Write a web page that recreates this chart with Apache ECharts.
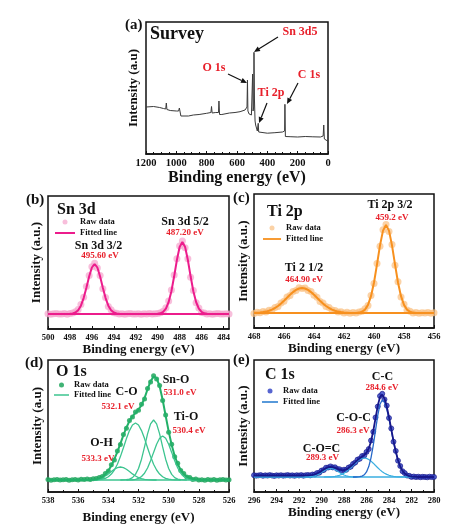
<!DOCTYPE html>
<html>
<head>
<meta charset="utf-8">
<script src="https://cdn.jsdelivr.net/npm/echarts@6/dist/echarts.min.js"></script>
<style>
  html, body { margin: 0; padding: 0; background: #fff; }
  #chart { width: 474px; height: 526px; }
</style>
</head>
<body>
<div id="chart"></div>
<script>
var FONT = '"Liberation Serif", "DejaVu Serif", serif';
var INK = '#111';
var RED = '#e8202b';

// (a) survey spectrum, [binding energy, intensity]
var surveyPoints = [
  [1200, 47], [1150, 47.5], [1110, 46.5], [1085, 45.5], [1070, 45], [1066, 51], [1062, 44.5],
  [1040, 43.5], [1000, 43], [985, 43], [980, 46], [976, 44], [970, 38], [958, 37.3], [920, 38],
  [888, 39], [850, 39.5], [800, 40.7], [772, 41.5], [768, 47.5], [764, 41], [740, 41.5],
  [722, 41.5], [719, 53], [715, 39.5], [700, 39.5], [650, 41], [613, 41.5], [580, 42.3],
  [547, 44], [537, 45.5], [534, 47], [531, 74], [528, 43], [520, 40], [505, 39], [500, 41],
  [497, 80], [494, 43], [490, 47], [488, 101.7], [485, 55], [481, 33], [477, 29], [472, 27],
  [466, 23], [462, 23.5], [460, 30.7], [457, 22], [448, 20.7], [400, 20.8], [350, 21.3],
  [300, 22], [290, 22.5], [286, 23], [284, 49.7], [281, 17.5], [250, 17.3], [200, 17],
  [150, 17.5], [100, 17.2], [50, 17], [32, 18], [28, 29], [24, 15], [12, 13.5], [0, 12.7]
];

// (b) Sn 3d
var snEnergy = [
  500, 499.75, 499.5, 499.25, 499, 498.75, 498.5, 498.25,
  498, 497.75, 497.5, 497.25, 497, 496.75, 496.5, 496.25,
  496, 495.75, 495.5, 495.25, 495, 494.75, 494.5, 494.25,
  494, 493.75, 493.5, 493.25, 493, 492.75, 492.5, 492.25,
  492, 491.75, 491.5, 491.25, 491, 490.75, 490.5, 490.25,
  490, 489.75, 489.5, 489.25, 489, 488.75, 488.5, 488.25,
  488, 487.75, 487.5, 487.25, 487, 486.75, 486.5, 486.25,
  486, 485.75, 485.5, 485.25, 485, 484.75, 484.5, 484.25,
  484, 483.75, 483.5
];
var snRaw = [
  15.3, 14.8, 15.2, 15.5, 14.9, 15.1, 15.4, 14.8,
  15.6, 15.9, 17.2, 19.6, 24.4, 31.8, 42.5, 53.6,
  62.3, 65.8, 60.9, 53.4, 40.3, 31.6, 22.6, 19.3,
  16.2, 15.8, 15.0, 15.3, 14.8, 15.2, 15.4, 14.9,
  15.1, 15.3, 14.8, 15.2, 15.0, 15.4, 14.9, 15.2,
  15.5, 16.2, 17.8, 21.3, 28.1, 38.9, 53.9, 70.2,
  83.1, 88.0, 81.2, 70.3, 51.8, 38.6, 26.2, 21.1,
  16.6, 16.1, 15.0, 15.3, 14.8, 15.2, 15.4, 14.9,
  15.1, 15.3, 14.9
];
var snFit = [
  15, 15, 15, 15, 15, 15, 15, 15,
  15.2, 15.5, 16.5, 18.8, 23.3, 30.9, 41.2, 52.5,
  61.5, 65, 61.5, 52.5, 41.2, 30.9, 23.3, 18.8,
  16.5, 15.5, 15.2, 15, 15, 15, 15, 15,
  15, 15, 15, 15, 15, 15, 15, 15,
  15.2, 15.7, 17.1, 20.4, 27, 37.8, 52.7, 69,
  82, 87, 82, 69, 52.7, 37.8, 27, 20.4,
  17.1, 15.7, 15.2, 15, 15, 15, 15, 15,
  15, 15, 15
];
var snBaseline = [[500, 15], [483.5, 15]];
var snTicks = [484, 486, 488, 490, 492, 494, 496, 498, 500];

// (c) Ti 2p
var tiEnergy = [
  468, 467.8, 467.6, 467.4, 467.2, 467, 466.8, 466.6, 466.4, 466.2,
  466, 465.8, 465.6, 465.4, 465.2, 465, 464.8, 464.6, 464.4, 464.2,
  464, 463.8, 463.6, 463.4, 463.2, 463, 462.8, 462.6, 462.4, 462.2,
  462, 461.8, 461.6, 461.4, 461.2, 461, 460.8, 460.6, 460.4, 460.2,
  460, 459.8, 459.6, 459.4, 459.2, 459, 458.8, 458.6, 458.4, 458.2,
  458, 457.8, 457.6, 457.4, 457.2, 457, 456.8, 456.6, 456.4, 456.2,
  456
];
var tiRaw = [
  14.6, 15.8, 15.2, 16.4, 16.0, 17.8, 18.1, 20.6, 21.5, 25.0,
  26.8, 30.9, 32.6, 36.4, 37.5, 40.2, 39.4, 40.1, 37.6, 36.5,
  32.7, 30.8, 26.6, 24.9, 21.4, 20.5, 17.9, 17.6, 16.0, 16.3,
  15.1, 15.7, 14.8, 15.4, 15.0, 15.9, 16.8, 19.2, 22.5, 32.6,
  44.6, 64.5, 81.8, 98.2, 103.6, 96.5, 83.5, 62.8, 46.3, 31.0,
  23.8, 17.9, 16.8, 15.1, 15.6, 14.7, 15.3, 14.9, 15.4, 14.8,
  15.2
];
var tiFit = [
  15.2, 15.3, 15.5, 15.9, 16.4, 17.2, 18.4, 20.0, 22.0, 24.4,
  27.2, 30.2, 33.2, 35.9, 38.1, 39.5, 40, 39.5, 38.1, 35.9,
  33.2, 30.2, 27.2, 24.4, 22.0, 20.0, 18.4, 17.2, 16.4, 15.9,
  15.5, 15.3, 15.1, 15, 15.1, 15.4, 16.3, 18.4, 23.1, 31.8,
  45.5, 63.6, 82.6, 97.4, 103, 97.4, 82.6, 63.6, 45.5, 31.8,
  23.1, 18.4, 16.3, 15.4, 15.1, 15, 15, 15, 15, 15,
  15
];
var tiBaseline = [[468, 15], [456, 15]];

// (d) O 1s
var oEnergy = [
  538, 537.8, 537.6, 537.4, 537.2, 537, 536.8, 536.6, 536.4, 536.2,
  536, 535.8, 535.6, 535.4, 535.2, 535, 534.8, 534.6, 534.4, 534.2,
  534, 533.8, 533.6, 533.4, 533.2, 533, 532.8, 532.6, 532.4, 532.2,
  532, 531.8, 531.6, 531.4, 531.2, 531, 530.8, 530.6, 530.4, 530.2,
  530, 529.8, 529.6, 529.4, 529.2, 529, 528.8, 528.6, 528.4, 528.2,
  528, 527.8, 527.6, 527.4, 527.2, 527, 526.8, 526.6, 526.4, 526.2,
  526
];
var oRaw = [
  12.4, 11.8, 12.3, 12.6, 11.9, 12.2, 12.5, 11.7, 12.3, 12.6,
  12.1, 12.8, 12.4, 13.0, 12.6, 13.2, 13.5, 14.5, 15.6, 18.4,
  21.0, 27.2, 32.0, 41.0, 47.6, 57.6, 63.8, 71.6, 75.0, 80.1,
  81.8, 87.8, 93.1, 103.5, 110.1, 116.2, 113.0, 106.6, 91.5, 77.0,
  59.8, 47.8, 35.2, 28.7, 21.4, 18.5, 15.0, 14.4, 12.6, 12.9,
  11.9, 12.3, 11.8, 12.4, 12.0, 12.5, 11.8, 12.2, 12.6, 11.9,
  12.3
];
var oFit = [
  12, 12, 12, 12, 12, 12, 12, 12, 12, 12,
  12, 12, 12, 12, 12.1, 12.3, 12.8, 13.6, 15.1, 17.6,
  21.3, 26.4, 32.8, 40.2, 48.4, 56.8, 64.5, 70.9, 75.7, 79.2,
  82.5, 86.9, 93.9, 102.7, 110.8, 115.4, 113.8, 105.8, 92.3, 76.2,
  60.6, 47, 36, 28, 22, 18, 15.5, 14, 13, 12.5,
  12.2, 12, 12, 12, 12, 12, 12, 12, 12, 12,
  12
];
var ohPeak = [
  [535.8, 12], [535.6, 12], [535.4, 12], [535.2, 12.1], [535, 12.3], [534.8, 12.6], [534.6, 13.3],
  [534.4, 14.4], [534.2, 16.0], [534, 18.1], [533.8, 20.5], [533.6, 22.8], [533.4, 24.4], [533.2, 25],
  [533, 24.4], [532.8, 22.8], [532.6, 20.5], [532.4, 18.1], [532.2, 16.0], [532, 14.4], [531.8, 13.3],
  [531.6, 12.6], [531.4, 12.3], [531.2, 12.1], [531, 12], [530.8, 12]
];
var coPeak = [
  [535.2, 12], [535, 12.05], [534.8, 12.1], [534.6, 12.3], [534.4, 12.8], [534.2, 13.6], [534, 15.2],
  [533.8, 17.9], [533.6, 22.0], [533.4, 27.8], [533.2, 35.4], [533, 44.3], [532.8, 53.4], [532.6, 61.4],
  [532.4, 67.0], [532.2, 69], [532, 67.0], [531.8, 61.4], [531.6, 53.4], [531.4, 44.3], [531.2, 35.4],
  [531, 27.8], [530.8, 22.0], [530.6, 17.9], [530.4, 15.2], [530.2, 13.6], [530, 12.8], [529.8, 12.3],
  [529.6, 12.1], [529.4, 12.05], [529.2, 12]
];
var snoPeak = [
  [533.2, 12], [533, 12.1], [532.8, 12.3], [532.6, 12.9], [532.4, 14.4], [532.2, 17.6], [532, 23.5],
  [531.8, 32.8], [531.6, 45.1], [531.4, 58.1], [531.2, 68.1], [531, 72], [530.8, 68.1], [530.6, 58.1],
  [530.4, 45.1], [530.2, 32.8], [530, 23.5], [529.8, 17.6], [529.6, 14.4], [529.4, 12.9], [529.2, 12.3],
  [529, 12.1], [528.8, 12]
];
var tioPeak = [
  [532.8, 12], [532.6, 12.1], [532.4, 12.2], [532.2, 12.7], [532, 13.6], [531.8, 15.5], [531.6, 18.8],
  [531.4, 24.0], [531.2, 31.2], [531, 39.6], [530.8, 47.7], [530.6, 53.8], [530.4, 56], [530.2, 53.8],
  [530, 47.7], [529.8, 39.6], [529.6, 31.2], [529.4, 24.0], [529.2, 18.8], [529, 15.5], [528.8, 13.6],
  [528.6, 12.7], [528.4, 12.2], [528.2, 12.1], [528, 12]
];
var oBaseline = [[538, 12], [526, 12]];

// (e) C 1s
var cEnergy = [
  296, 295.8, 295.6, 295.4, 295.2, 295, 294.8, 294.6, 294.4, 294.2,
  294, 293.8, 293.6, 293.4, 293.2, 293, 292.8, 292.6, 292.4, 292.2,
  292, 291.8, 291.6, 291.4, 291.2, 291, 290.8, 290.6, 290.4, 290.2,
  290, 289.8, 289.6, 289.4, 289.2, 289, 288.8, 288.6, 288.4, 288.2,
  288, 287.8, 287.6, 287.4, 287.2, 287, 286.8, 286.6, 286.4, 286.2,
  286, 285.8, 285.6, 285.4, 285.2, 285, 284.8, 284.6, 284.4, 284.2,
  284, 283.8, 283.6, 283.4, 283.2, 283, 282.8, 282.6, 282.4, 282.2,
  282, 281.8, 281.6, 281.4, 281.2, 281, 280.8, 280.6, 280.4, 280.2,
  280
];
var cRaw = [
  16.8, 16.3, 16.6, 16.9, 16.2, 16.7, 16.4, 16.9, 16.5, 16.1,
  16.7, 16.4, 16.8, 16.3, 16.6, 16.9, 16.4, 16.7, 16.2, 16.8,
  16.5, 16.9, 16.3, 16.8, 17.0, 16.6, 17.5, 17.4, 18.9, 19.3,
  21.4, 22.0, 24.3, 24.5, 25.6, 24.6, 24.7, 23.0, 22.8, 21.5,
  22.3, 22.2, 24.4, 25.3, 28.1, 29.5, 32.4, 33.2, 35.9, 36.5,
  40.1, 43.0, 51.5, 60.2, 74.5, 85.4, 96.0, 98.2, 92.6, 86.4,
  74.0, 63.6, 50.3, 41.1, 31.3, 26.0, 20.8, 18.9, 16.5, 16.2,
  15.1, 15.5, 14.9, 15.3, 14.8, 15.2, 15.0, 14.7, 15.3, 14.9,
  15.1
];
var cFit = [
  16.5, 16.5, 16.5, 16.5, 16.5, 16.5, 16.5, 16.5, 16.5, 16.5,
  16.5, 16.5, 16.5, 16.5, 16.5, 16.5, 16.5, 16.5, 16.5, 16.5,
  16.5, 16.5, 16.5, 16.6, 16.6, 16.8, 17.1, 17.7, 18.5, 19.6,
  20.9, 22.4, 23.8, 24.8, 25.1, 24.9, 24.3, 23.4, 22.4, 21.8,
  21.9, 22.6, 23.9, 25.7, 27.6, 29.9, 31.9, 33.7, 35.3, 36.9,
  39.4, 43.5, 50.6, 61.0, 73.6, 86.2, 95.1, 97.4, 93.4, 85.5,
  74.8, 62.8, 51.0, 40.4, 31.9, 25.5, 21.2, 18.4, 16.8, 15.9,
  15.4, 15.2, 15.1, 15, 15, 15, 15, 15, 15, 15,
  15
];
var ccPeak = [
  [287.2, 15], [287, 15.0], [286.8, 15.1], [286.6, 15.3], [286.4, 15.9], [286.2, 17.2], [286, 20.1],
  [285.8, 25.4], [285.6, 34.2], [285.4, 46.7], [285.2, 61.7], [285, 76.7], [284.8, 87.8], [284.6, 92],
  [284.4, 89.6], [284.2, 82.9], [284, 73.1], [283.8, 61.7], [283.6, 50.3], [283.4, 40.0], [283.2, 31.7],
  [283, 25.4], [282.8, 21.1], [282.6, 18.4], [282.4, 16.8], [282.2, 15.9], [282, 15.4], [281.8, 15.2],
  [281.6, 15.1], [281.4, 15]
];
var cocPeak = [
  [289.8, 15], [289.6, 15.1], [289.4, 15.1], [289.2, 15.2], [289, 15.4], [288.8, 15.7], [288.6, 16.1],
  [288.4, 16.7], [288.2, 17.6], [288, 18.8], [287.8, 20.3], [287.6, 22.1], [287.4, 24.3], [287.2, 26.5],
  [287, 28.8], [286.8, 30.9], [286.6, 32.5], [286.4, 33.6], [286.2, 34], [286, 33.6], [285.8, 32.5],
  [285.6, 30.9], [285.4, 28.8], [285.2, 26.5], [285, 24.3], [284.8, 22.1], [284.6, 20.3], [284.4, 18.8],
  [284.2, 17.6], [284, 16.7], [283.8, 16.1], [283.6, 15.7], [283.4, 15.4], [283.2, 15.2], [283, 15.1],
  [282.8, 15.1], [282.6, 15]
];
var coecPeak = [
  [291.6, 15], [291.4, 15.1], [291.2, 15.1], [291, 15.3], [290.8, 15.6], [290.6, 16.2], [290.4, 17.0],
  [290.2, 18.1], [290, 19.4], [289.8, 20.9], [289.6, 22.2], [289.4, 23.2], [289.2, 23.5], [289, 23.2],
  [288.8, 22.2], [288.6, 20.9], [288.4, 19.4], [288.2, 18.1], [288, 17.0], [287.8, 16.2], [287.6, 15.6],
  [287.4, 15.3], [287.2, 15.1], [287, 15.1], [286.8, 15]
];
var cBaseline = [[296, 15], [280, 15]];

function pairs(xs, ys) {
  return xs.map(function (x, i) { return [x, ys[i]]; });
}

var chart = echarts.init(document.getElementById('chart'));

var gridBox = { show: true, borderColor: INK, borderWidth: 1.5, outerBoundsMode: 'none' };
var grids = [
  Object.assign({ left: 146, top: 22, width: 182, height: 132 }, gridBox),
  Object.assign({ left: 48, top: 196, width: 181, height: 133 }, gridBox),
  Object.assign({ left: 254, top: 194, width: 180, height: 134 }, gridBox),
  Object.assign({ left: 48, top: 360, width: 181, height: 132 }, gridBox),
  Object.assign({ left: 254, top: 360, width: 180, height: 132 }, gridBox)
];

function energyAxis(gi, min, max, interval, minorSplit, gap, nameSize, labelSize) {
  return {
    gridIndex: gi, type: 'value', min: min, max: max, interval: interval, inverse: true,
    name: 'Binding energy (eV)', nameLocation: 'middle', nameGap: gap,
    nameTextStyle: { fontFamily: FONT, fontWeight: 'bold', fontSize: nameSize, color: INK },
    axisLine: { onZero: false, lineStyle: { color: INK, width: 1.5 } },
    axisTick: { inside: true, length: 3, lineStyle: { color: INK, width: 1 } },
    minorTick: { show: true, splitNumber: minorSplit, length: 2, lineStyle: { color: INK, width: 1 } },
    axisLabel: { margin: 4, fontFamily: FONT, fontWeight: 'bold', fontSize: labelSize, color: INK,
                 formatter: function (v) { return String(v); } },
    splitLine: { show: false }, minorSplitLine: { show: false }
  };
}

function intensityAxis(gi, max, name, gap) {
  return {
    gridIndex: gi, type: 'value', min: 0, max: max,
    name: name, nameLocation: 'middle', nameGap: gap,
    nameTextStyle: { fontFamily: FONT, fontWeight: 'bold', fontSize: 13, color: INK },
    axisLine: { show: false }, axisTick: { show: false }, axisLabel: { show: false },
    splitLine: { show: false }
  };
}

var snAxis = energyAxis(1, 483.5, 500, null, 2, 13, 13, 8.5);
delete snAxis.interval;
snAxis.axisTick.customValues = snTicks;
snAxis.axisLabel.customValues = snTicks;
snAxis.minorTick = { show: false };

var xAxes = [
  energyAxis(0, 0, 1200, 200, 4, 16, 16, 10.5),
  snAxis,
  energyAxis(2, 456, 468, 2, 2, 13, 13, 8.5),
  energyAxis(3, 526, 538, 2, 2, 19, 13, 8.5),
  energyAxis(4, 280, 296, 2, 2, 12, 13, 8.5)
];
var yAxes = [
  intensityAxis(0, 132, 'Intensity (a.u)', 6),
  intensityAxis(1, 133, 'Intensity (a.u.)', 5),
  intensityAxis(2, 134, 'Intensity (a.u.)', 4),
  intensityAxis(3, 132, 'Intensity (a.u)', 4),
  intensityAxis(4, 132, 'Intensity (a.u.)', 4)
];

function lineSeries(name, gi, data, color, width, z) {
  return {
    name: name, type: 'line', xAxisIndex: gi, yAxisIndex: gi, data: data,
    symbol: 'none', showSymbol: false, smooth: false, z: z || 3,
    lineStyle: { color: color, width: width }, itemStyle: { color: color },
    emphasis: { disabled: true }, animation: false
  };
}
function rawSeries(name, gi, data, color, size, opacity, border) {
  return {
    name: name, type: 'scatter', xAxisIndex: gi, yAxisIndex: gi, data: data,
    symbol: 'circle', symbolSize: size, z: 2,
    itemStyle: Object.assign({ color: color, opacity: opacity }, border || {}),
    emphasis: { disabled: true }, animation: false
  };
}

var SN = '#ec1c8c', TI = '#f7901e', OG = '#22b068', OC = '#3cc48f', CN = '#17178a', CB = '#2769c9', CL = '#3aaee0';

var series = [
  lineSeries('survey', 0, surveyPoints, '#3a3a3a', 1, 3),

  rawSeries('snRaw', 1, pairs(snEnergy, snRaw), '#f5a3cc', 7, 0.7),
  lineSeries('snBase', 1, snBaseline, SN, 2),
  lineSeries('snFit', 1, pairs(snEnergy, snFit), SN, 2),

  rawSeries('tiRaw', 2, pairs(tiEnergy, tiRaw), '#f9bf80', 7, 0.7),
  lineSeries('tiBase', 2, tiBaseline, TI, 2),
  lineSeries('tiFit', 2, pairs(tiEnergy, tiFit), TI, 2),

  rawSeries('oRaw', 3, pairs(oEnergy, oRaw), '#1fa65d', 5, 0.85),
  lineSeries('oBase', 3, oBaseline, OC, 1.3),
  lineSeries('oComp', 3, ohPeak, OC, 1.3),
  lineSeries('oComp', 3, coPeak, OC, 1.3),
  lineSeries('oComp', 3, snoPeak, OC, 1.3),
  lineSeries('oComp', 3, tioPeak, OC, 1.3),
  lineSeries('oEnv', 3, pairs(oEnergy, oFit), OG, 2, 4),

  rawSeries('cRaw', 4, pairs(cEnergy, cRaw), '#3a4ac8', 5, 0.85, { borderColor: CN, borderWidth: 0.8 }),
  lineSeries('cBase', 4, cBaseline, CL, 1.3),
  lineSeries('cComp', 4, coecPeak, CL, 1.2),
  lineSeries('cComp', 4, cocPeak, CL, 1.2),
  lineSeries('cCC', 4, ccPeak, CB, 1.3),
  lineSeries('cEnv', 4, pairs(cEnergy, cFit), CN, 1.8, 4)
];

var LINE_ICON = 'path://M0 0 H20 V2 H0 Z';
var legendText = { fontFamily: FONT, fontWeight: 'bold', fontSize: 8.5, color: INK, lineHeight: 10 };
function legendFor(rawName, rawColor, fitName, fitColor, left, top, w, gap) {
  return {
    data: [{ name: rawName, icon: 'circle', itemStyle: { color: rawColor, borderWidth: 0 } },
           { name: fitName, icon: LINE_ICON, itemStyle: { color: fitColor } }],
    orient: 'vertical', left: left, top: top, padding: 0, itemGap: gap,
    itemWidth: w, itemHeight: 5, selectedMode: false, textStyle: legendText,
    formatter: function (n) { return n === rawName ? 'Raw data' : 'Fitted line'; }
  };
}
var legends = [
  legendFor('snRaw', '#f5a3cc', 'snFit', SN, 55, 217, 20, 1),
  legendFor('tiRaw', '#f9bf80', 'tiFit', TI, 263, 223, 18, 1),
  legendFor('oRaw', '#1fa65d', 'oComp', OC, 54, 380, 15, 0),
  legendFor('cRaw', '#3a4ac8', 'cComp', '#2c7fd1', 262, 386, 16, 1)
];

function txt(s, x, y, size, color, align) {
  return {
    type: 'text', x: x, y: y, z: 100,
    style: { text: s, font: 'bold ' + size + 'px ' + FONT, fill: color || INK,
             align: align || 'center', verticalAlign: 'middle' }
  };
}
function arrow(x1, y1, x2, y2) {
  var a = Math.atan2(y2 - y1, x2 - x1), L = 6, W = 2.6;
  var bx = x2 - L * Math.cos(a), by = y2 - L * Math.sin(a);
  var px = -Math.sin(a) * W, py = Math.cos(a) * W;
  return [
    { type: 'line', z: 100, shape: { x1: x1, y1: y1, x2: bx, y2: by }, style: { stroke: INK, lineWidth: 1.2 } },
    { type: 'polygon', z: 100, shape: { points: [[x2, y2], [bx + px, by + py], [bx - px, by - py]] }, style: { fill: INK } }
  ];
}

var graphics = [
  // (a)
  txt('(a)', 125, 25, 15, INK, 'left'),
  txt('Survey', 150, 34, 18, INK, 'left'),
  txt('Sn 3d5', 300, 32, 12, RED),
  txt('O 1s', 214, 68, 12, RED),
  txt('Ti 2p', 271, 93, 12, RED),
  txt('C 1s', 309, 75, 12, RED),
  // (b)
  txt('(b)', 26, 200, 15, INK, 'left'),
  txt('Sn 3d', 57, 210, 16, INK, 'left'),
  txt('Sn 3d 3/2', 98.5, 246, 12),
  txt('495.60 eV', 100, 256, 9, RED),
  txt('Sn 3d 5/2', 185, 222, 12),
  txt('487.20 eV', 185, 233, 9, RED),
  // (c)
  txt('(c)', 233, 198, 15, INK, 'left'),
  txt('Ti 2p', 267, 212, 16, INK, 'left'),
  txt('Ti 2p 3/2', 390, 205, 12),
  txt('459.2 eV', 392, 218, 9, RED),
  txt('Ti 2 1/2', 304, 268, 12),
  txt('464.90 eV', 304, 280, 9, RED),
  // (d)
  txt('(d)', 25, 363, 15, INK, 'left'),
  txt('O 1s', 56, 372, 16, INK, 'left'),
  txt('C-O', 126.5, 392, 12),
  txt('532.1 eV', 118, 407, 9, RED),
  txt('Sn-O', 176, 380, 12),
  txt('531.0 eV', 180, 393, 9, RED),
  txt('Ti-O', 186, 417, 12),
  txt('530.4 eV', 189, 431, 9, RED),
  txt('O-H', 101.5, 443, 12),
  txt('533.3 eV', 98, 459, 9, RED),
  // (e)
  txt('(e)', 233, 360, 15, INK, 'left'),
  txt('C 1s', 265, 375, 16, INK, 'left'),
  txt('C-C', 382.5, 377, 12),
  txt('284.6 eV', 382, 388, 9, RED),
  txt('C-O-C', 353.5, 418, 12),
  txt('286.3 eV', 353, 431, 9, RED),
  txt('C-O=C', 321.5, 449, 12),
  txt('289.3 eV', 322.5, 458, 9, RED)
].concat(arrow(278, 37, 254, 52), arrow(228, 74, 247, 83), arrow(267, 103, 259, 123), arrow(298, 83, 287, 104));

chart.setOption({
  animation: false,
  backgroundColor: '#fff',
  textStyle: { fontFamily: FONT },
  grid: grids,
  xAxis: xAxes,
  yAxis: yAxes,
  legend: legends,
  series: series,
  graphic: graphics
});
</script>
</body>
</html>
